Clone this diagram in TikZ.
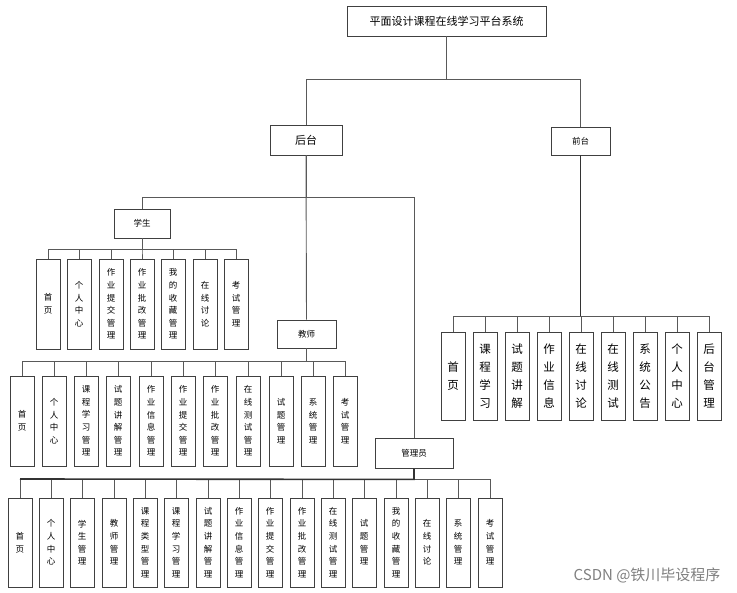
\documentclass[tikz,border=0pt]{standalone}
\usepackage{fontspec}
\setmainfont{Noto Sans CJK SC}
\begin{document}
\begin{tikzpicture}[x=1pt,y=-1pt,
  box/.style={draw=black!75,line width=0.9pt,fill=white,inner sep=1pt,align=center},
  small/.style={box,minimum width=24pt,font=\fontsize{8.5}{12.6}\selectfont},
  big/.style={box,minimum width=24pt,font=\fontsize{11.5}{18}\selectfont},
  conn/.style={draw=black!65,line width=0.9pt}]
\fill[white] (0,0) rectangle (737,593);
\node[box,minimum width=199pt,minimum height=30pt,font=\fontsize{11}{13}\selectfont] (root) at (446.5,21) {平面设计课程在线学习平台系统};
\node[box,minimum width=72pt,minimum height=30pt,font=\fontsize{11}{13}\selectfont] (ht) at (306,140) {后台};
\node[box,minimum width=59pt,minimum height=28pt,font=\fontsize{8.5}{10}\selectfont] (qt) at (580.5,141) {前台};
\node[box,minimum width=56pt,minimum height=29pt,font=\fontsize{8.5}{10}\selectfont] (xs) at (142,223.5) {学生};
\node[box,minimum width=59pt,minimum height=28pt,font=\fontsize{8.5}{10}\selectfont] (js) at (306.5,334) {教师};
\node[box,minimum width=78pt,minimum height=30pt,font=\fontsize{8.5}{10}\selectfont] (gl) at (414,453) {管理员};
\draw[conn] (root.south) -- ++(0,43) -| (ht.north);
\draw[conn] (root.south) -- ++(0,43) -| (qt.north);
\draw[conn] (ht.south) -- ++(0,42) -| (xs.north);
\draw[conn] (ht.south) -- (js.north);
\draw[conn] (ht.south) -- ++(0,42) -| (gl.north);
% 前台 children
\foreach \i/\x/\t in {1/453/首\\页,2/485/课\\程\\学\\习,3/517/试\\题\\讲\\解,4/549/作\\业\\信\\息,5/581/在\\线\\讨\\论,6/613/在\\线\\测\\试,7/645/系\\统\\公\\告,8/677/个\\人\\中\\心,9/709/后\\台\\管\\理}{
  \node[big,minimum height=88pt] (q\i) at (\x,376) {\t};
  \draw[conn] (qt.south) -- ++(0,161) -| (q\i.north);
}
\draw[line width=1.6pt,black!80] (qt.south) -- ++(0,161);
% 学生 children
\foreach \i/\x/\t in {1/48/首\\页,2/79/个\\人\\中\\心,3/111/作\\业\\提\\交\\管\\理,4/142/作\\业\\批\\改\\管\\理,5/173/我\\的\\收\\藏\\管\\理,6/205/在\\线\\讨\\论,7/236/考\\试\\管\\理}{
  \node[small,minimum height=90pt] (s\i) at (\x,304) {\t};
  \draw[conn] (xs.south) -- ++(0,11.5) -| (s\i.north);
}
% 教师 children
\foreach \i/\x/\t in {1/22/首\\页,2/54/个\\人\\中\\心,3/86/课\\程\\学\\习\\管\\理,4/118/试\\题\\讲\\解\\管\\理,5/151/作\\业\\信\\息\\管\\理,6/183/作\\业\\提\\交\\管\\理,7/215/作\\业\\批\\改\\管\\理,8/248/在\\线\\测\\试\\管\\理,9/281/试\\题\\管\\理,10/313/系\\统\\管\\理,11/345/考\\试\\管\\理}{
  \node[small,minimum height=90pt] (t\i) at (\x,421) {\t};
  \draw[conn] (js.south) -- ++(0,13) -| (t\i.north);
}
% 管理员 children
\foreach \i/\x/\t in {1/20/首\\页,2/51/个\\人\\中\\心,3/82/学\\生\\管\\理,4/114/教\\师\\管\\理,5/145/课\\程\\类\\型\\管\\理,6/176/课\\程\\学\\习\\管\\理,7/208/试\\题\\讲\\解\\管\\理,8/239/作\\业\\信\\息\\管\\理,9/270/作\\业\\提\\交\\管\\理,10/302/作\\业\\批\\改\\管\\理,11/333/在\\线\\测\\试\\管\\理,12/364/试\\题\\管\\理,13/396/我\\的\\收\\藏\\管\\理,14/427/在\\线\\讨\\论,15/458/系\\统\\管\\理,16/490/考\\试\\管\\理}{
  \node[small,minimum height=89pt] (g\i) at (\x,542.5) {\t};
  \draw[conn] (gl.south) -- ++(0,11) -| (g\i.north);
}
\draw[line width=1.6pt,black!80] (gl.south) -- ++(0,11) -- (g1.north |- 0,479);
\node[font=\fontsize{15}{17}\selectfont,text=black!50,anchor=east] (wm) at (724,575) {CSDN @铁川毕设程序};
\end{tikzpicture}
\end{document}
